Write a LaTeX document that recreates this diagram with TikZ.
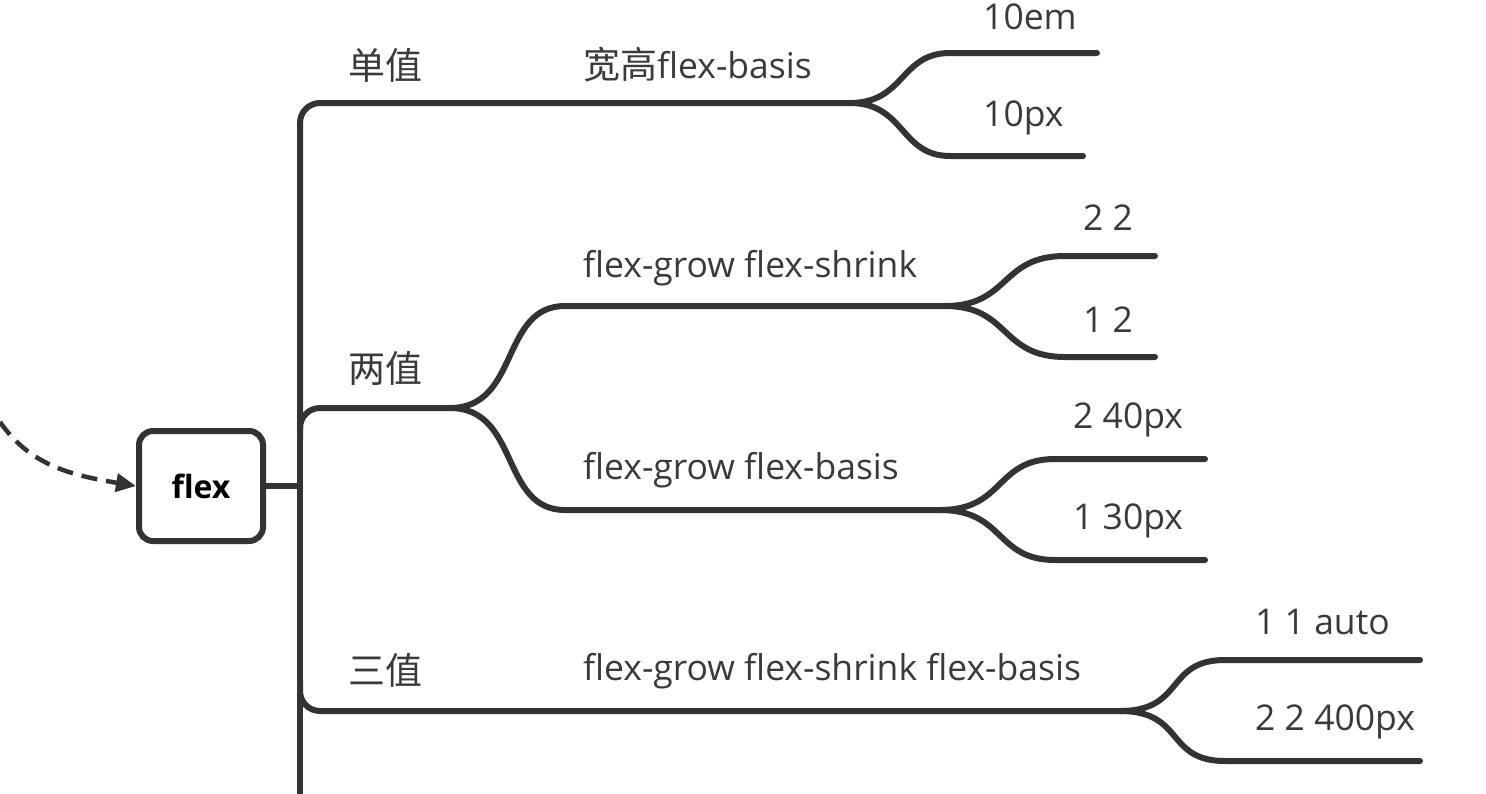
\documentclass[tikz,border=0pt]{standalone}
\usepackage{fontspec}
\setmainfont{Open Sans}
\newfontfamily\cjk{Noto Sans CJK SC}
\usetikzlibrary{arrows.meta}
\definecolor{ln}{HTML}{333333}
\definecolor{tx}{HTML}{3A3A3A}
\begin{document}
\begin{tikzpicture}[x=1pt,y=-1pt,
  br/.style={draw=ln,line width=6pt,line cap=round,line join=round},
  lb/.style={text=tx,font=\fontsize{35.5}{38}\selectfont,inner sep=0pt,anchor=west},
  cl/.style={text=tx,font=\cjk\fontsize{37}{40}\selectfont,inner sep=0pt,anchor=west}]
\useasboundingbox (0,0) rectangle (1486,793);
\node[draw=ln,line width=6pt,rounded corners=14pt,minimum width=124pt,minimum height=110pt,font=\fontsize{32}{34}\selectfont\bfseries,text=black] (flex) at (201,486) {flex};
\coordinate (t0) at (300,486);
\draw[br] (flex.east) -- (t0);
\draw[br,line cap=butt] (300,795) -- (300,430);
\draw[br,rounded corners=20pt,line cap=butt] (300,430) -- (300,103) -- (850,103);
\draw[br,rounded corners=20pt] (300,440) -- (300,408) -- (450,408);
\draw[br,rounded corners=20pt] (300,680) -- (300,711) -- (1120,711);
% 单值
\draw[br] (850,103) .. controls (905,103) and (900,53) .. (950,53) -- (1097,53);
\draw[br] (850,103) .. controls (905,103) and (900,156) .. (950,156) -- (1083,156);
% 两值
\draw[br] (450,408) .. controls (520,408) and (500,306) .. (565,306) -- (945,306);
\draw[br] (450,408) .. controls (520,408) and (500,510) .. (565,510) -- (940,510);
\draw[br] (945,306) .. controls (1010,306) and (1000,256) .. (1065,256) -- (1155,256);
\draw[br] (945,306) .. controls (1010,306) and (1000,357) .. (1065,357) -- (1155,357);
\draw[br] (940,510) .. controls (1005,510) and (995,459) .. (1055,459) -- (1205,459);
\draw[br] (940,510) .. controls (1005,510) and (995,560) .. (1055,560) -- (1205,560);
% 三值
\draw[br] (1120,711) .. controls (1185,711) and (1165,660) .. (1225,660) -- (1420,660);
\draw[br] (1120,711) .. controls (1185,711) and (1165,761) .. (1225,761) -- (1420,761);
% labels
\node[cl] (a) at (348,65) {单值};
\node[lb] (a1) at (583,65) {{\cjk\fontsize{37}{40}\selectfont 宽高}flex-basis};
\node[lb] (a2) at (983,17) {10em};
\node[lb] (a3) at (983,118) {10px};
\node[cl] (b) at (348,368) {两值};
\node[lb] (b1) at (583,268) {flex-grow flex-shrink};
\node[lb] (b2) at (583,470) {flex-grow flex-basis};
\node[lb] (b3) at (1083,218) {2 2};
\node[lb] (b4) at (1083,320) {1 2};
\node[lb] (b5) at (1073,420) {2 40px};
\node[lb] (b6) at (1073,521) {1 30px};
\node[cl] (c) at (348,670) {三值};
\node[lb] (c1) at (583,671) {flex-grow flex-shrink flex-basis};
\node[lb] (c2) at (1255,622) {1 1 auto};
\node[lb] (c3) at (1255,722) {2 2 400px};
% incoming dashed arrow
\coordinate (in) at (0,422);
\draw[draw=ln,line width=4.5pt,dash pattern=on 16pt off 9pt,-{Triangle[length=20pt,width=18pt]}] (in) .. controls (30,465) and (70,475) .. (flex.west);
\end{tikzpicture}
\end{document}
